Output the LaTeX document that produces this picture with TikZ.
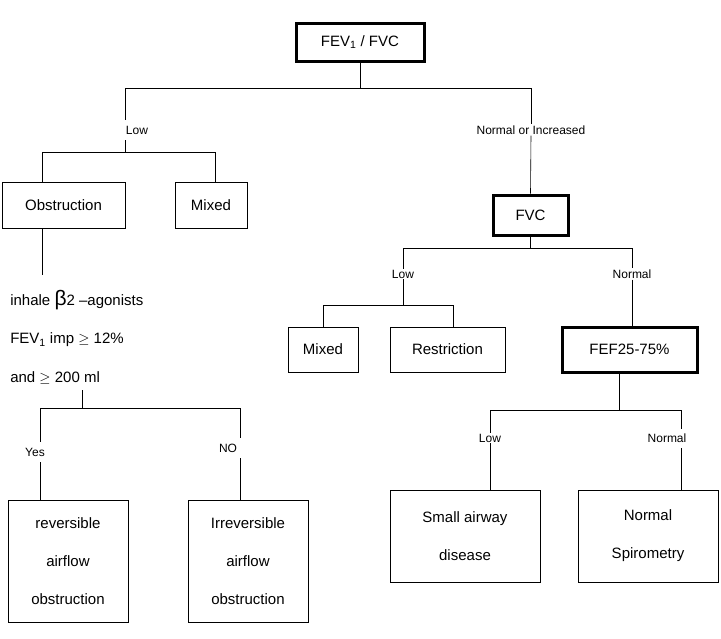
\documentclass[tikz,border=0pt]{standalone}
\usepackage{fontspec}
\setmainfont{Liberation Sans}
\begin{document}
\begin{tikzpicture}[x=1pt,y=-1pt,
  box/.style={draw,line width=0.8pt,inner sep=0,font=\fontsize{15}{17}\selectfont},
  tbox/.style={draw,line width=3pt,inner sep=0,font=\fontsize{15}{17}\selectfont},
  lab/.style={inner sep=1pt,font=\fontsize{12}{14}\selectfont,fill=white},
  txt/.style={inner sep=0,anchor=west,font=\fontsize{15}{17}\selectfont},
  every path/.style={line width=0.6pt}]
\useasboundingbox (0,0) rectangle (721,638);
\fill[white] (0,0) rectangle (721,638);
% nodes
\node[tbox,minimum width=128,minimum height=38] (root) at (360,42) {FEV\textsubscript{1} / FVC};
\node[lab] (low1) at (137,130) {Low};
\node[lab] (nor1) at (531,130) {Normal or Increased};
\node[box,minimum width=123,minimum height=46] (obs) at (63.5,205) {Obstruction};
\node[box,minimum width=72,minimum height=46] (mix1) at (211,205) {Mixed};
\node[txt] (t1) at (10,300) {inhale {\fontsize{21}{21}\selectfont β}2 –agonists};
\node[txt] (t2) at (10,340) {FEV\textsubscript{1} imp $\geq$ 12\%};
\node[txt] (t3) at (10,378) {and $\geq$ 200 ml};
\coordinate (tb) at (82,390);
\node[lab] (yes) at (35,452) {Yes};
\node[lab] (no) at (228,448) {NO};
\node[box,minimum width=120,minimum height=122,align=center,font=\fontsize{15}{38}\selectfont] (rev) at (68,561) {reversible\\airflow\\obstruction};
\node[box,minimum width=120,minimum height=122,align=center,font=\fontsize{15}{38}\selectfont] (irr) at (248,561) {Irreversible\\airflow\\obstruction};
\node[tbox,minimum width=75,minimum height=40] (fvc) at (530.5,215) {FVC};
\node[lab] (low2) at (403,274) {Low};
\node[lab] (nor2) at (632,274) {Normal};
\node[box,minimum width=70,minimum height=45] (mix2) at (323,349.5) {Mixed};
\node[box,minimum width=115,minimum height=45] (res) at (447.5,349.5) {Restriction};
\node[tbox,minimum width=135,minimum height=45] (fef) at (629.5,349.5) {FEF25-75\%};
\node[lab] (low3) at (490,438) {Low};
\node[lab] (nor3) at (667,438) {Normal};
\node[box,minimum width=150,minimum height=92,align=center,font=\fontsize{15}{38}\selectfont] (sad) at (465,536) {Small airway\\disease};
\node[box,minimum width=140,minimum height=92,align=center,font=\fontsize{15}{38}\selectfont] (ns) at (648,536) {Normal\\Spirometry};
% connectors
\draw (root.south) -- (360,88);
\draw (125,88) -- (531,88);
\draw (125,88) -- (125,120); \draw (531,88) -- (nor1.north);
\draw (125,140) -- (125,152);
\draw (42,152) -- (215,152);
\draw (42,152) -- (42,182); \draw (215,152) -- (215,182);
\draw (42,228) -- (42,275);
\draw (tb) -- (82,408);
\draw (40,408) -- (240,408);
\draw (40,408) -- (40,442); \draw (40,462) -- (40,500);
\draw (240,408) -- (240,438); \draw (240,458) -- (240,500);
\draw (nor1.south) -- (fvc.north);
\draw (fvc.south) -- (530.5,248);
\draw (403,248) -- (632,248);
\draw (403,248) -- (low2.north); \draw (632,248) -- (nor2.north);
\draw (low2.south) -- (403,305);
\draw (323,305) -- (453,305);
\draw (323,305) -- (mix2.north); \draw (453,305) -- (453,327);
\draw (nor2.south) -- (632,327);
\draw (619,372) -- (619,410);
\draw (490,410) -- (681,410);
\draw (490,410) -- (low3.north); \draw (681,410) -- (681,429);
\draw (low3.south) -- (490,490); \draw (681,448) -- (681,490);
\end{tikzpicture}
\end{document}
